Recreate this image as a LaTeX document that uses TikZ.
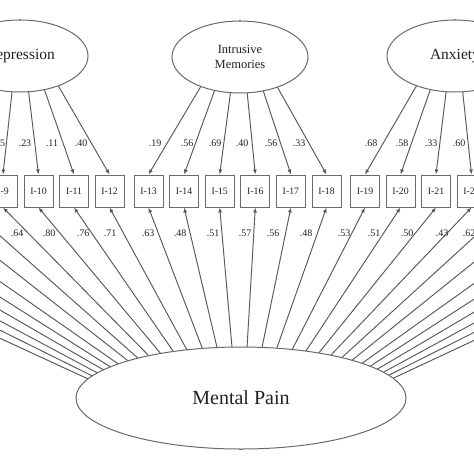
\documentclass[tikz,border=0pt]{standalone}
\usepackage{fontspec}
\setmainfont{Liberation Serif}
\usetikzlibrary{arrows.meta,backgrounds,shapes.geometric}
\definecolor{boxgray}{HTML}{6A6A6A}
\definecolor{linegray}{HTML}{585858}
\definecolor{txt}{HTML}{222222}
\begin{document}
\begin{tikzpicture}[x=1pt,y=-1pt,
  item/.style={draw=boxgray, line width=1pt, minimum width=29pt, minimum height=32pt,
    inner sep=0pt, text=txt, font=\fontsize{9.8}{10}\selectfont},
  factor/.style={ellipse, draw=boxgray, line width=1pt, fill=white, minimum width=136pt,
    minimum height=72pt, inner sep=0pt, align=center, text=txt},
  load/.style={inner sep=0pt, text=txt, font=\fontsize{10}{10}\selectfont},
  conn/.style={draw=linegray, line width=0.95pt, -{Latex[length=5pt,width=4pt]}}]
\useasboundingbox (0,0) rectangle (474,474);
\clip (0,0) rectangle (474,474);
% visible items
\foreach \n/\x in {9/3,10/38.5,11/74,12/109.5,13/148.5,14/184.1,15/219.7,16/255.3,17/290.9,18/326.5,
  19/365,20/400.5,21/436,22/471.5}
  \node[item] (b\n) at (\x,191) {};
\foreach \n in {9,...,22} \node[inner sep=0pt, text=txt, font=\fontsize{9.8}{10}\selectfont] (lb\n) at (b\n) {I-\n};
% ends of connectors that run off the picture (items outside it)
\foreach \n/\x in {1/-284.5,2/-249,3/-213.5,4/-178,5/-142.5,6/-107,7/-68,8/-32.5,
  23/507,24/542.5,25/581.5,26/617,27/652.5,28/688,29/723.5,30/759}
  {\coordinate (n\n) at (\x,175); \coordinate (s\n) at (\x,207);}
\foreach \n in {9,...,22} {\coordinate (n\n) at (b\n.north); \coordinate (s\n) at (b\n.south);}
% factors
\node[factor, font=\fontsize{15.5}{17}\selectfont] (dep) at (20,56) {Depression};
\node[factor, font=\fontsize{12.5}{14.5}\selectfont] (im) at (240,57) {Intrusive\\Memories};
\node[factor, font=\fontsize{15.5}{17}\selectfont] (anx) at (455,56) {Anxiety};
\node[ellipse, draw=boxgray, line width=1pt, fill=white, minimum width=330pt, minimum height=102pt,
  inner sep=0pt, text=txt, font=\fontsize{20}{22}\selectfont] (mp) at (241,398) {Mental Pain};
% connectors
\begin{scope}[on background layer]
  \foreach \n in {9,...,12} \draw[conn] (dep.north) -- (n\n);
  \foreach \n in {13,...,18} \draw[conn] (im.north) -- (n\n);
  \foreach \n in {19,...,22} \draw[conn] (anx.north) -- (n\n);
  \foreach \n in {1,...,30} \draw[conn] (mp.south) -- (s\n);
\end{scope}
% loadings (factor -> item)
\node[load] (t9) at (-1,143) {.45};
\node[load] (t10) at (25,143) {.23};
\node[load] (t11) at (52,143) {.11};
\node[load] (t12) at (81,143) {.40};
\node[load] (t13) at (155,143) {.19};
\node[load] (t14) at (187,143) {.56};
\node[load] (t15) at (215,143) {.69};
\node[load] (t16) at (242,143) {.40};
\node[load] (t17) at (271,143) {.56};
\node[load] (t18) at (299,143) {.33};
\node[load] (t19) at (371,143) {.68};
\node[load] (t20) at (402,143) {.58};
\node[load] (t21) at (431,143) {.33};
\node[load] (t22) at (459,143) {.60};
% loadings (mental pain -> item)
\node[load] (m9) at (17,233) {.64};
\node[load] (m10) at (49,233) {.80};
\node[load] (m11) at (83,233) {.76};
\node[load] (m12) at (110,233) {.71};
\node[load] (m13) at (148,233) {.63};
\node[load] (m14) at (180,233) {.48};
\node[load] (m15) at (213,233) {.51};
\node[load] (m16) at (245,233) {.57};
\node[load] (m17) at (273,233) {.56};
\node[load] (m18) at (306,233) {.48};
\node[load] (m19) at (344,233) {.53};
\node[load] (m20) at (374,233) {.51};
\node[load] (m21) at (407,233) {.50};
\node[load] (m22) at (442,233) {.43};
\node[load] (m23) at (469,233) {.62};
\end{tikzpicture}
\end{document}
